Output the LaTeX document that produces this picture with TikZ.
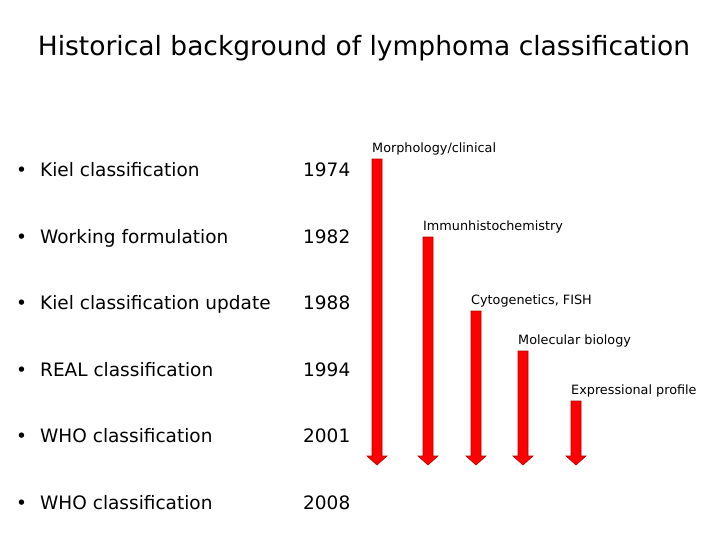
\documentclass[tikz,border=0pt]{standalone}
\usepackage{fontspec}
\setmainfont{DejaVu Sans}
\begin{document}
\begin{tikzpicture}[x=1pt,y=-1pt,
  item/.style={anchor=base west,font=\fontsize{18.5}{22}\selectfont,inner sep=0},
  lbl/.style={anchor=base west,font=\fontsize{12.8}{15}\selectfont,inner sep=0},
  redarrow/.style={fill=red,draw=red!70!black,line width=0.6pt}]
\useasboundingbox (0,0) rectangle (728,546);
\node[font=\fontsize{26.5}{31}\selectfont] (title) at (364,48) {Historical background of lymphoma classification};
\foreach \i/\t/\yr/\y in {1/Kiel classification/1974/176, 2/Working formulation/1982/243, 3/Kiel classification update/1988/309, 4/REAL classification/1994/376, 5/WHO classification/2001/442, 6/WHO classification/2008/509}{
  \node[item] (b\i) at (16,\y) {\textbullet};
  \node[item] (t\i) at (40,\y) {\t};
  \node[item] (y\i) at (303,\y) {\yr};
}
\foreach \i/\t/\x/\top in {1/Morphology\slash clinical/377/159, 2/Immunhistochemistry/428/237, 3/{Cytogenetics, FISH}/476/311, 4/Molecular biology/523/351, 5/Expressional profile/576/401}{
  \node[lbl] (l\i) at (\x-5,\top-7) {\t};
  \draw[redarrow] (\x-5,\top) -- (\x+5,\top) -- (\x+5,456) -- (\x+10,456) -- (\x,465) -- (\x-10,456) -- (\x-5,456) -- cycle;
}
\end{tikzpicture}
\end{document}
